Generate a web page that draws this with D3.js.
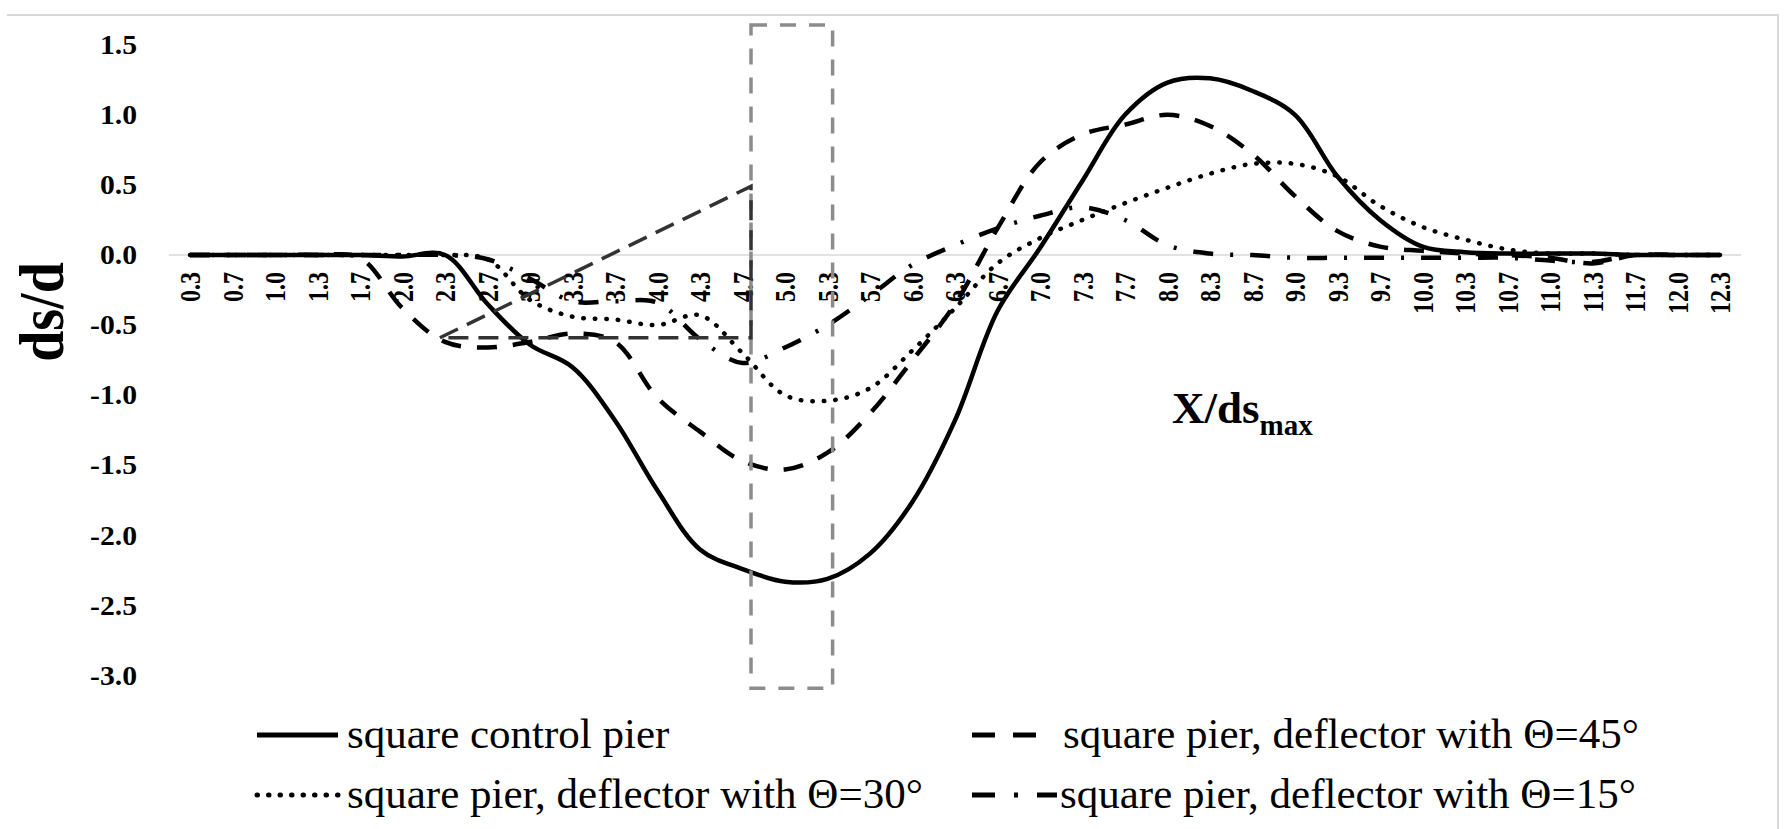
<!DOCTYPE html>
<html>
<head>
<meta charset="utf-8">
<script src="https://cdn.jsdelivr.net/npm/d3@7"></script>
<style>
  html, body { margin: 0; padding: 0; background: #fff; }
  svg { display: block; font-family: "Liberation Serif", "Times New Roman", serif; }
</style>
</head>
<body>
<svg id="chart" width="1789" height="829"></svg>
<script>
// category axis X/ds_max
var categories = ["0.3","0.7","1.0","1.3","1.7","2.0","2.3","2.7","3.0","3.3","3.7","4.0","4.3",
  "4.7","5.0","5.3","5.7","6.0","6.3","6.7","7.0","7.3","7.7","8.0","8.3","8.7","9.0","9.3",
  "9.7","10.0","10.3","10.7","11.0","11.3","11.7","12.0","12.3"];

// ds/d values, one per category
var controlPier = [0,0,0,0,0,-0.01,0,-0.35,-0.64,-0.80,-1.18,-1.68,-2.10,-2.24,-2.33,-2.31,
  -2.13,-1.76,-1.18,-0.40,0.05,0.53,1.0,1.23,1.26,1.17,1.0,0.56,0.25,0.06,0.02,0.01,0.01,0.01,0,0,0];
var deflector45 = [0,0,0,0,-0.02,-0.38,-0.62,-0.66,-0.62,-0.56,-0.62,-1.02,-1.26,-1.47,-1.53,-1.41,
  -1.13,-0.75,-0.35,0.19,0.66,0.86,0.93,1.0,0.92,0.72,0.42,0.17,0.06,0.03,0.01,0,-0.02,-0.06,0,0,0];
var deflector30 = [0,0,0,0,0,0,0,-0.03,-0.32,-0.44,-0.46,-0.5,-0.43,-0.70,-1.0,-1.04,
  -0.95,-0.68,-0.38,-0.06,0.12,0.25,0.37,0.48,0.58,0.65,0.65,0.56,0.35,0.2,0.11,0.04,0.01,0.01,0,0,0];
var deflector15 = [0,0,0,0,0,0,0,-0.03,-0.17,-0.33,-0.33,-0.34,-0.6,-0.77,-0.66,-0.5,
  -0.29,-0.07,0.07,0.19,0.28,0.34,0.25,0.07,0.01,0,-0.02,-0.02,-0.02,-0.02,-0.02,-0.02,-0.04,-0.05,0,0,0];

var yTicks = [1.5,1.0,0.5,0.0,-0.5,-1.0,-1.5,-2.0,-2.5,-3.0];

var seriesNames = ["square control pier", "square pier, deflector with \u0398=45\u00b0",
  "square pier, deflector with \u0398=30\u00b0", "square pier, deflector with \u0398=15\u00b0"];

// annotations, in (category index, ds/d)
var boxCorners = [[13.2,1.64],[15.12,1.64],[15.12,-3.09],[13.2,-3.09]];
var triangleCorners = [[5.88,-0.59],[13.2,0.49],[13.2,-0.59]];

var svg = d3.select("#chart");

var x = d3.scalePoint().domain(categories).range([190, 1720]);
var xi = d3.scaleLinear().domain([0, categories.length - 1]).range(x.range());
var y = d3.scaleLinear().domain([-3, 1.5]).range([675.6, 44.7]);

// chart border (only top and right edges show)
svg.append("path")
  .attr("d", "M7,15H1778V829")
  .attr("fill", "none")
  .attr("stroke", "#d9d9d9")
  .attr("stroke-width", 2);

// horizontal axis line at zero
svg.append("line")
  .attr("x1", x.range()[0] - x.step() / 2)
  .attr("x2", x.range()[1] + x.step() / 2)
  .attr("y1", y(0)).attr("y2", y(0))
  .attr("stroke", "#d9d9d9")
  .attr("stroke-width", 1.5);

// category labels, rotated
var gx = svg.append("g")
  .attr("transform", "translate(0," + y(0) + ")")
  .call(d3.axisBottom(x).tickSize(0))
  .attr("font-family", null).attr("font-size", null);
gx.select(".domain").remove();
gx.selectAll("text")
  .attr("y", null).attr("dy", null)
  .attr("transform", "translate(0,17) rotate(-90) scale(1,1.2)")
  .attr("text-anchor", "end")
  .attr("dominant-baseline", "central")
  .attr("fill", "#000")
  .style("font-size", "24px")
  .style("font-weight", "bold");

// value labels
var gy = svg.append("g")
  .attr("transform", "translate(137,0)")
  .call(d3.axisLeft(y).tickValues(yTicks).tickSize(0).tickPadding(0)
    .tickFormat(function (v) { return v.toFixed(1); }))
  .attr("font-family", null).attr("font-size", null);
gy.select(".domain").remove();
gy.selectAll("text")
  .attr("transform", "scale(1.1,1)")
  .attr("fill", "#000")
  .style("font-size", "27px")
  .style("font-weight", "bold");

// axis titles
svg.append("text")
  .attr("transform", "translate(63,312) rotate(-90) scale(1,1.15)")
  .attr("text-anchor", "middle")
  .style("font-size", "56px")
  .style("font-weight", "bold")
  .text("ds/d");

var xt = svg.append("text")
  .attr("x", 1172).attr("y", 423)
  .style("font-size", "45px")
  .style("font-weight", "bold");
xt.append("tspan").text("X/ds");
xt.append("tspan").attr("dy", 12).style("font-size", "29px").text("max");

// series
var styles = [
  { data: controlPier, dash: null, cap: "butt", legendDash: null },
  { data: deflector45, dash: "20,16", cap: "butt", legendDash: "23,18,23,200" },
  { data: deflector30, dash: "0.5,11", cap: "round", legendDash: "0.5,11" },
  { data: deflector15, dash: "20,17,3,17", cap: "butt", legendDash: "23,19,4,19,23" }
];

var line = d3.line()
  .x(function (d, i) { return x(categories[i]); })
  .y(function (d) { return y(d); })
  .curve(d3.curveCatmullRom.alpha(0.5));

styles.forEach(function (s) {
  svg.append("path")
    .datum(s.data)
    .attr("d", line)
    .attr("fill", "none")
    .attr("stroke", "#000")
    .attr("stroke-width", 4.5)
    .attr("stroke-linecap", s.cap)
    .attr("stroke-linejoin", "round")
    .attr("stroke-dasharray", s.dash);
});

// annotations
var corner = d3.line()
  .x(function (d) { return xi(d[0]); })
  .y(function (d) { return y(d[1]); })
  .curve(d3.curveLinearClosed);

svg.append("path")
  .attr("d", corner(boxCorners))
  .attr("fill", "none")
  .attr("stroke", "#8c8c8c")
  .attr("stroke-width", 3.5)
  .attr("stroke-dasharray", "16,13");

svg.append("path")
  .attr("d", corner(triangleCorners))
  .attr("fill", "none")
  .attr("stroke", "#333")
  .attr("stroke-width", 3.5)
  .attr("stroke-dasharray", "20,10");

// legend
var legendPos = [
  { x1: 257, x2: 338, tx: 347, y: 735 },
  { x1: 972, x2: 1057, tx: 1063, y: 735 },
  { x1: 257, x2: 338, tx: 347, y: 795 },
  { x1: 972, x2: 1057, tx: 1060, y: 795 }
];

legendPos.forEach(function (p, i) {
  var s = styles[i];
  svg.append("line")
    .attr("x1", p.x1).attr("x2", p.x2)
    .attr("y1", p.y).attr("y2", p.y)
    .attr("stroke", "#000")
    .attr("stroke-width", 5)
    .attr("stroke-linecap", s.cap)
    .attr("stroke-dasharray", s.legendDash);
  svg.append("text")
    .attr("x", p.tx).attr("y", p.y + 13)
    .style("font-size", "43px")
    .text(seriesNames[i]);
});
</script>
</body>
</html>
